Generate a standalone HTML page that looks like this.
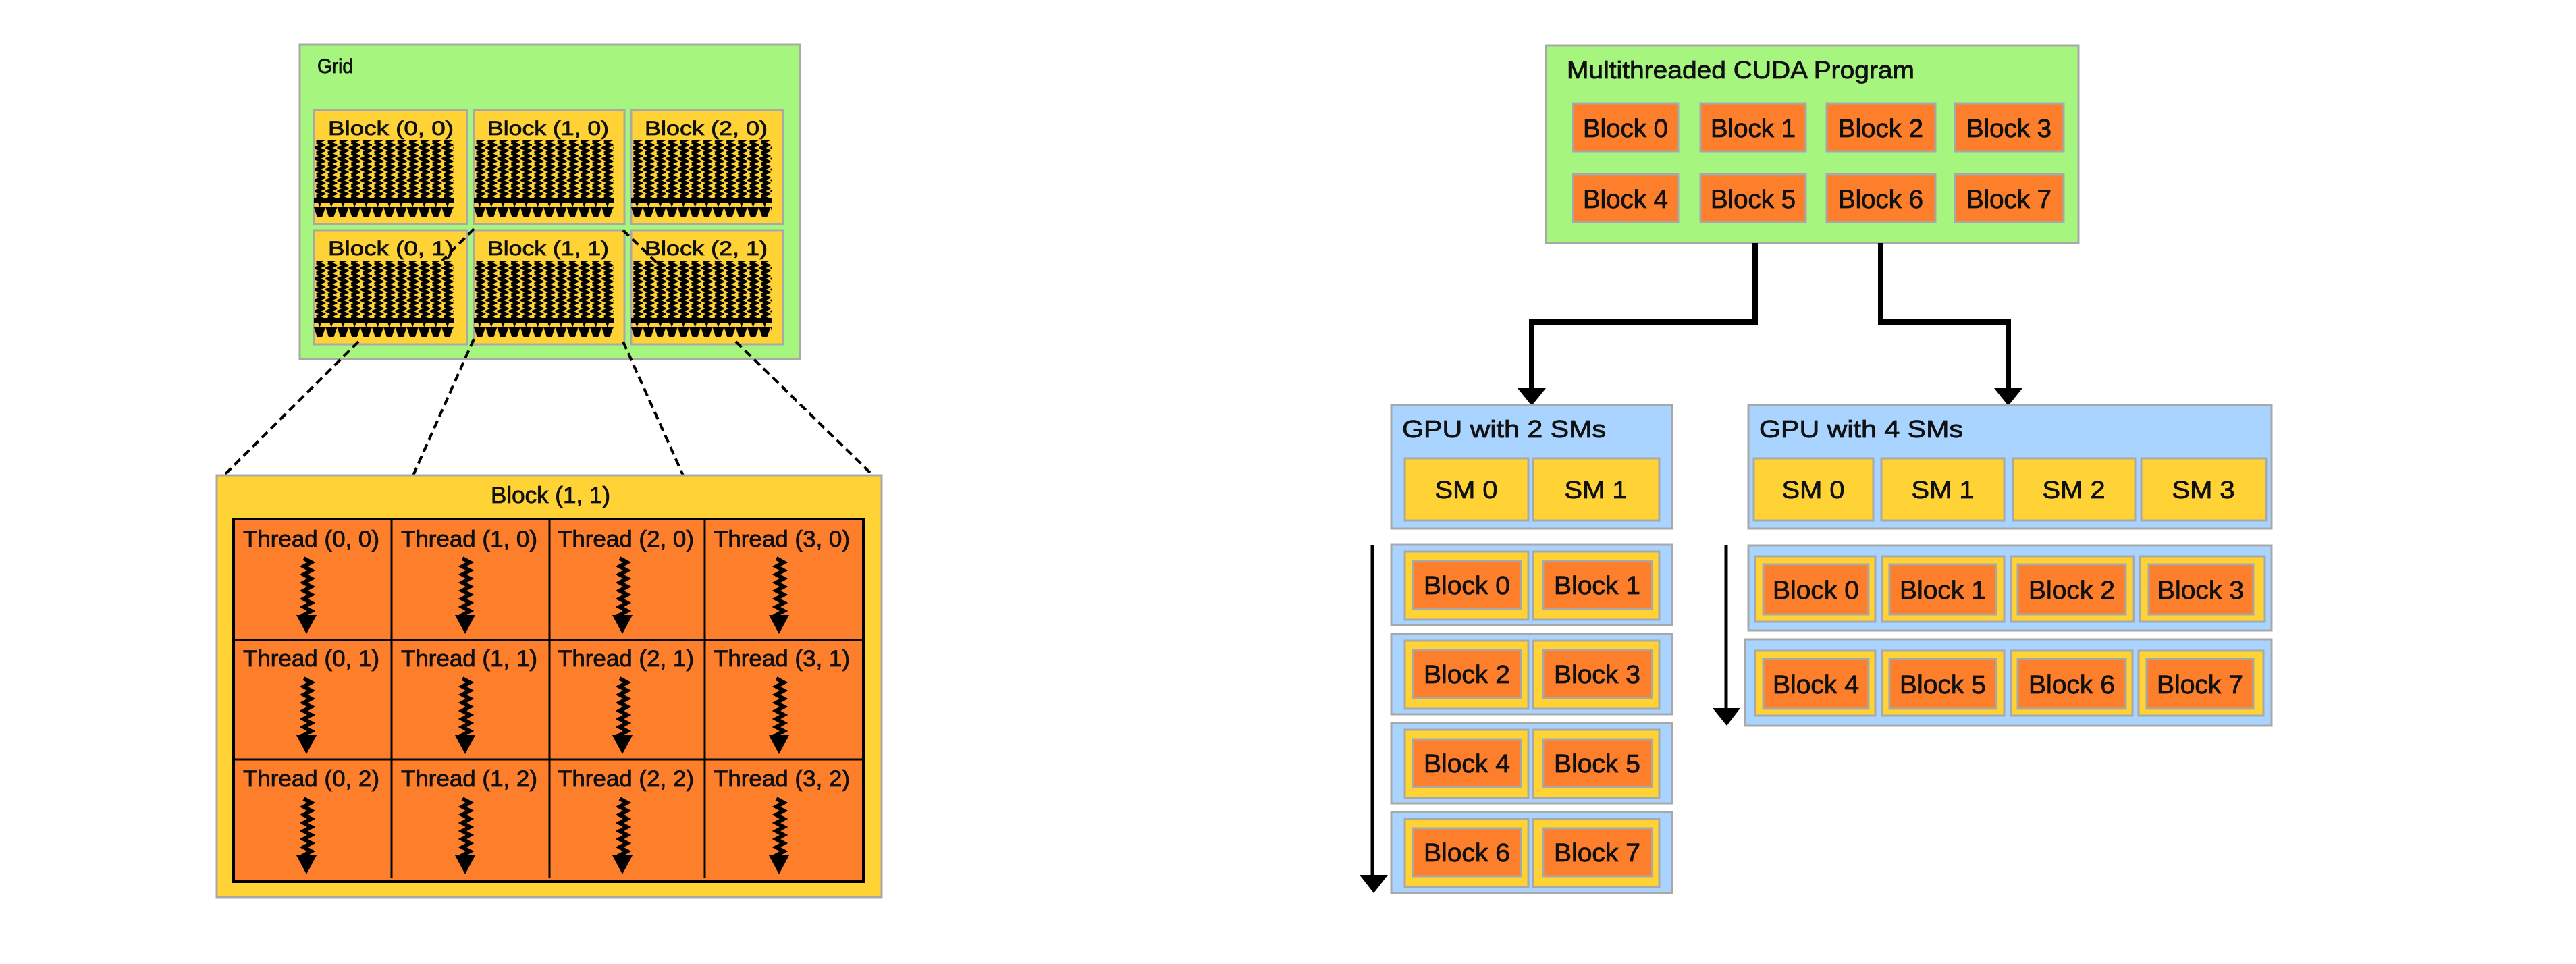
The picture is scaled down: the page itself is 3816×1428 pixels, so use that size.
<!DOCTYPE html>
<html><head><meta charset="utf-8"><style>
html,body{margin:0;padding:0;background:#fff;}
svg{display:block}
text{font-family:"Liberation Sans",sans-serif;fill:#111;stroke:#111;stroke-width:0.8px;}
</style></head><body>
<svg width="3816" height="1428" viewBox="0 0 3816 1428" xmlns="http://www.w3.org/2000/svg">
<defs>
<pattern id="zz" width="17.2" height="16" patternUnits="userSpaceOnUse">
<path d="M4,0 L13,4 L4,8 L13,12 L4,16" fill="none" stroke="#000" stroke-width="5"/>
</pattern>
<pattern id="teeth" width="17.2" height="24" patternUnits="userSpaceOnUse">
<polygon points="0,0 17.2,0 13,12 8.6,24 4,12" fill="#000"/>
</pattern>
<g id="th">
<path d="M0,0 l11,6 l-11,6 l11,6 l-11,6 l11,6 l-11,6 l11,6 l-11,6 l11,6 l-11,6 l11,6 l-11,6 l11,6 l-11,6 l5,5" fill="none" stroke="#000" stroke-width="6"/>
<polygon points="-11,84 19,84 4,112" fill="#000"/>
</g>
<g id="sq"><rect x="2" y="45" width="206" height="92" fill="url(#zz)"/><rect x="0" y="130" width="208" height="8" fill="#000"/><rect x="0" y="136" width="208" height="22" fill="url(#teeth)"/></g>
</defs>

<rect x="444" y="66" width="741" height="466" fill="#a6f57e" stroke="#a8a8a8" stroke-width="3"/>
<text x="470" y="108" font-size="30" textLength="53" lengthAdjust="spacingAndGlyphs">Grid</text>
<g stroke="#a8a8a8" stroke-width="3" fill="#ffd335">
<rect x="465" y="163" width="227" height="169"/><rect x="702" y="163" width="223" height="169"/><rect x="935" y="163" width="225" height="169"/>
<rect x="465" y="341" width="227" height="169"/><rect x="702" y="341" width="223" height="169"/><rect x="935" y="341" width="225" height="169"/>
</g>
<g font-size="30">
<text x="486" y="200" textLength="186" lengthAdjust="spacingAndGlyphs">Block (0, 0)</text>
<text x="722" y="200" textLength="180" lengthAdjust="spacingAndGlyphs">Block (1, 0)</text>
<text x="955" y="200" textLength="182" lengthAdjust="spacingAndGlyphs">Block (2, 0)</text>
<text x="486" y="378" textLength="186" lengthAdjust="spacingAndGlyphs">Block (0, 1)</text>
<text x="722" y="378" textLength="180" lengthAdjust="spacingAndGlyphs">Block (1, 1)</text>
<text x="955" y="378" textLength="182" lengthAdjust="spacingAndGlyphs">Block (2, 1)</text>
</g>
<use href="#sq" x="465" y="163"/><use href="#sq" x="702" y="163"/><use href="#sq" x="935" y="163"/>
<use href="#sq" x="465" y="341"/><use href="#sq" x="702" y="341"/><use href="#sq" x="935" y="341"/>

<g stroke="#000" stroke-width="4" stroke-dasharray="12,7" fill="none">
<line x1="531" y1="506" x2="325" y2="711"/>
<line x1="702" y1="502" x2="609" y2="711"/>
<line x1="923" y1="506" x2="1015" y2="711"/>
<line x1="1090" y1="506" x2="1297" y2="708"/>
<line x1="702" y1="339" x2="655" y2="386"/>
<line x1="923" y1="341" x2="974" y2="390"/>
</g>

<rect x="321" y="704" width="985" height="625" fill="#ffd335" stroke="#a8a8a8" stroke-width="3"/>
<text x="727" y="745" font-size="34" textLength="177" lengthAdjust="spacingAndGlyphs">Block (1, 1)</text>
<rect x="346" y="769" width="933" height="537" fill="#fd7f2c" stroke="#000" stroke-width="4"/>
<g stroke="#000" stroke-width="3">
<line x1="580" y1="769" x2="580" y2="1300"/><line x1="814" y1="769" x2="814" y2="1300"/><line x1="1044" y1="769" x2="1044" y2="1300"/>
<line x1="346" y1="948" x2="1279" y2="948"/><line x1="346" y1="1125" x2="1279" y2="1125"/>
</g>
<g font-size="34">
<text x="360" y="810" textLength="202" lengthAdjust="spacingAndGlyphs">Thread (0, 0)</text>
<text x="594" y="810" textLength="202" lengthAdjust="spacingAndGlyphs">Thread (1, 0)</text>
<text x="826" y="810" textLength="202" lengthAdjust="spacingAndGlyphs">Thread (2, 0)</text>
<text x="1057" y="810" textLength="202" lengthAdjust="spacingAndGlyphs">Thread (3, 0)</text>
<text x="360" y="987" textLength="202" lengthAdjust="spacingAndGlyphs">Thread (0, 1)</text>
<text x="594" y="987" textLength="202" lengthAdjust="spacingAndGlyphs">Thread (1, 1)</text>
<text x="826" y="987" textLength="202" lengthAdjust="spacingAndGlyphs">Thread (2, 1)</text>
<text x="1057" y="987" textLength="202" lengthAdjust="spacingAndGlyphs">Thread (3, 1)</text>
<text x="360" y="1165" textLength="202" lengthAdjust="spacingAndGlyphs">Thread (0, 2)</text>
<text x="594" y="1165" textLength="202" lengthAdjust="spacingAndGlyphs">Thread (1, 2)</text>
<text x="826" y="1165" textLength="202" lengthAdjust="spacingAndGlyphs">Thread (2, 2)</text>
<text x="1057" y="1165" textLength="202" lengthAdjust="spacingAndGlyphs">Thread (3, 2)</text>
</g>
<use href="#th" x="450" y="827"/><use href="#th" x="685" y="827"/><use href="#th" x="918" y="827"/><use href="#th" x="1150" y="827"/>
<use href="#th" x="450" y="1005"/><use href="#th" x="685" y="1005"/><use href="#th" x="918" y="1005"/><use href="#th" x="1150" y="1005"/>
<use href="#th" x="450" y="1183"/><use href="#th" x="685" y="1183"/><use href="#th" x="918" y="1183"/><use href="#th" x="1150" y="1183"/>

<rect x="2290" y="67" width="789" height="293" fill="#a6f57e" stroke="#a8a8a8" stroke-width="3"/>
<text x="2321" y="116" font-size="36" textLength="515" lengthAdjust="spacingAndGlyphs">Multithreaded CUDA Program</text>
<g fill="#fd7f2c" stroke="#a8a8a8" stroke-width="3">
<rect x="2330" y="153" width="156" height="71"/><rect x="2519" y="153" width="156" height="71"/><rect x="2706" y="153" width="161" height="71"/><rect x="2896" y="153" width="161" height="71"/>
<rect x="2330" y="258" width="156" height="71"/><rect x="2519" y="258" width="156" height="71"/><rect x="2706" y="258" width="161" height="71"/><rect x="2896" y="258" width="161" height="71"/>
</g>
<g font-size="38" text-anchor="middle">
<text x="2408" y="203" textLength="126" lengthAdjust="spacingAndGlyphs">Block 0</text><text x="2597" y="203" textLength="126" lengthAdjust="spacingAndGlyphs">Block 1</text><text x="2786" y="203" textLength="126" lengthAdjust="spacingAndGlyphs">Block 2</text><text x="2976" y="203" textLength="126" lengthAdjust="spacingAndGlyphs">Block 3</text>
<text x="2408" y="308" textLength="126" lengthAdjust="spacingAndGlyphs">Block 4</text><text x="2597" y="308" textLength="126" lengthAdjust="spacingAndGlyphs">Block 5</text><text x="2786" y="308" textLength="126" lengthAdjust="spacingAndGlyphs">Block 6</text><text x="2976" y="308" textLength="126" lengthAdjust="spacingAndGlyphs">Block 7</text>
</g>

<g fill="none" stroke="#000" stroke-width="8">
<polyline points="2600,360 2600,477 2269,477 2269,580"/>
<polyline points="2786,360 2786,477 2975,477 2975,580"/>
</g>
<polygon points="2248,575 2290,575 2269,601" fill="#000"/>
<polygon points="2954,575 2996,575 2975,601" fill="#000"/>

<rect x="2061" y="600" width="416" height="183" fill="#a8d4ff" stroke="#a8a8a8" stroke-width="3"/>
<text x="2077" y="648" font-size="36" textLength="302" lengthAdjust="spacingAndGlyphs">GPU with 2 SMs</text>
<rect x="2590" y="600" width="775" height="183" fill="#a8d4ff" stroke="#a8a8a8" stroke-width="3"/>
<text x="2606" y="648" font-size="36" textLength="302" lengthAdjust="spacingAndGlyphs">GPU with 4 SMs</text>
<g fill="#ffd335" stroke="#a8a8a8" stroke-width="3">
<rect x="2081" y="679" width="183" height="92"/><rect x="2271" y="679" width="187" height="92"/>
<rect x="2598" y="679" width="177" height="92"/><rect x="2787" y="679" width="182" height="92"/><rect x="2982" y="679" width="181" height="92"/><rect x="3172" y="679" width="185" height="92"/>
</g>
<g font-size="36" text-anchor="middle">
<text x="2172" y="738" textLength="93" lengthAdjust="spacingAndGlyphs">SM 0</text><text x="2364" y="738" textLength="93" lengthAdjust="spacingAndGlyphs">SM 1</text>
<text x="2686" y="738" textLength="93" lengthAdjust="spacingAndGlyphs">SM 0</text><text x="2878" y="738" textLength="93" lengthAdjust="spacingAndGlyphs">SM 1</text><text x="3072" y="738" textLength="93" lengthAdjust="spacingAndGlyphs">SM 2</text><text x="3264" y="738" textLength="93" lengthAdjust="spacingAndGlyphs">SM 3</text>
</g>

<line x1="2033" y1="807" x2="2033" y2="1300" stroke="#000" stroke-width="5"/>
<polygon points="2014,1296 2056,1296 2035,1323" fill="#000"/>
<line x1="2557" y1="807" x2="2557" y2="1055" stroke="#000" stroke-width="5"/>
<polygon points="2537,1049 2578,1049 2558,1075" fill="#000"/>

<g stroke="#a8a8a8" stroke-width="3">
<g fill="#a8d4ff">
<rect x="2061" y="807" width="416" height="119"/><rect x="2061" y="939" width="416" height="119"/><rect x="2061" y="1071" width="416" height="119"/><rect x="2061" y="1203" width="416" height="120"/>
<rect x="2590" y="808" width="775" height="126"/><rect x="2585" y="947" width="780" height="128"/>
</g>
<g fill="#ffd335">
<rect x="2081" y="817" width="183" height="101"/><rect x="2271" y="817" width="187" height="101"/>
<rect x="2081" y="949" width="183" height="101"/><rect x="2271" y="949" width="187" height="101"/>
<rect x="2081" y="1081" width="183" height="101"/><rect x="2271" y="1081" width="187" height="101"/>
<rect x="2081" y="1213" width="183" height="101"/><rect x="2271" y="1213" width="187" height="101"/>
<rect x="2600" y="824" width="178" height="97"/><rect x="2788" y="824" width="181" height="97"/><rect x="2979" y="824" width="182" height="97"/><rect x="3170" y="824" width="185" height="97"/>
<rect x="2600" y="964" width="178" height="96"/><rect x="2788" y="964" width="181" height="96"/><rect x="2979" y="964" width="180" height="96"/><rect x="3168" y="964" width="185" height="96"/>
</g>
<g fill="#fd7f2c">
<rect x="2093" y="831" width="160" height="71"/><rect x="2286" y="831" width="161" height="71"/>
<rect x="2093" y="963" width="160" height="71"/><rect x="2286" y="963" width="161" height="71"/>
<rect x="2093" y="1095" width="160" height="71"/><rect x="2286" y="1095" width="161" height="71"/>
<rect x="2093" y="1227" width="160" height="71"/><rect x="2286" y="1227" width="161" height="71"/>
<rect x="2612" y="836" width="156" height="74"/><rect x="2799" y="836" width="158" height="74"/><rect x="2989" y="836" width="160" height="74"/><rect x="3183" y="836" width="155" height="74"/>
<rect x="2612" y="976" width="156" height="74"/><rect x="2799" y="976" width="158" height="74"/><rect x="2989" y="976" width="160" height="74"/><rect x="3180" y="976" width="158" height="74"/>
</g>
</g>
<g font-size="38" text-anchor="middle">
<text x="2173" y="880" textLength="128" lengthAdjust="spacingAndGlyphs">Block 0</text><text x="2366" y="880" textLength="128" lengthAdjust="spacingAndGlyphs">Block 1</text>
<text x="2173" y="1012" textLength="128" lengthAdjust="spacingAndGlyphs">Block 2</text><text x="2366" y="1012" textLength="128" lengthAdjust="spacingAndGlyphs">Block 3</text>
<text x="2173" y="1144" textLength="128" lengthAdjust="spacingAndGlyphs">Block 4</text><text x="2366" y="1144" textLength="128" lengthAdjust="spacingAndGlyphs">Block 5</text>
<text x="2173" y="1276" textLength="128" lengthAdjust="spacingAndGlyphs">Block 6</text><text x="2366" y="1276" textLength="128" lengthAdjust="spacingAndGlyphs">Block 7</text>
<text x="2690" y="887" textLength="128" lengthAdjust="spacingAndGlyphs">Block 0</text><text x="2878" y="887" textLength="128" lengthAdjust="spacingAndGlyphs">Block 1</text><text x="3069" y="887" textLength="128" lengthAdjust="spacingAndGlyphs">Block 2</text><text x="3260" y="887" textLength="128" lengthAdjust="spacingAndGlyphs">Block 3</text>
<text x="2690" y="1027" textLength="128" lengthAdjust="spacingAndGlyphs">Block 4</text><text x="2878" y="1027" textLength="128" lengthAdjust="spacingAndGlyphs">Block 5</text><text x="3069" y="1027" textLength="128" lengthAdjust="spacingAndGlyphs">Block 6</text><text x="3259" y="1027" textLength="128" lengthAdjust="spacingAndGlyphs">Block 7</text>
</g>
</svg>
</body></html>
